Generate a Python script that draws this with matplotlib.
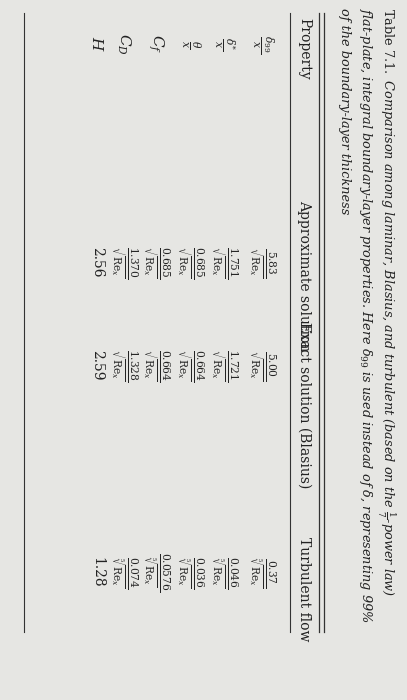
import matplotlib.pyplot as plt

plt.rcParams["font.family"] = "DejaVu Serif"
plt.rcParams["mathtext.fontset"] = "dejavuserif"

headers = ["Property", "Approximate solution", "Exact solution (Blasius)", "Turbulent flow"]
properties = [r"$\frac{\delta_{99}}{x}$", r"$\frac{\delta^{*}}{x}$", r"$\frac{\theta}{x}$",
              r"$C_f$", r"$C_D$", r"$H$"]
approx = ["5.83", "1.751", "0.685", "0.685", "1.370", "2.56"]
exact = ["5.00", "1.721", "0.664", "0.664", "1.328", "2.59"]
turbulent = ["0.37", "0.046", "0.036", "0.0576", "0.074", "1.28"]
title_lines = [
    r"$\mathrm{Table\ 7.1.}$ Comparison among laminar, Blasius, and turbulent (based on the $\frac{1}{7}$-power law)",
    r"flat-plate, integral boundary-layer properties. Here $\delta_{99}$ is used instead of $\delta$, representing 99%",
    "of the boundary-layer thickness",
]

W, H = 407, 700
fig = plt.figure(figsize=(W / 100, H / 100), dpi=100)
fig.patch.set_facecolor("#e6e6e3")
ax = fig.add_axes([0, 0, 1, 1])
ax.set_xlim(0, W)
ax.set_ylim(H, 0)
ax.axis("off")

# text is rotated: reading direction runs down the page
for i, line in enumerate(title_lines):
    ax.text(386 - 21 * i, 8, line, rotation=-90, ha="center", va="top",
            fontsize=9.3, style="italic", color="#222222")

ax.plot([324, 324], [13, 632], color="#333333", lw=0.9)
ax.plot([319, 319], [13, 632], color="#333333", lw=0.9)
ax.plot([290, 290], [13, 632], color="#333333", lw=0.8)
ax.plot([24, 24], [13, 632], color="#333333", lw=0.8)

col_y = [44, 262, 365, 572]
head_y = [18, 200, 322, 537]
for hy, h in zip(head_y, headers):
    ax.text(304, hy, h, rotation=-90, ha="center", va="top", fontsize=10, color="#222222")

row_x = [262, 224, 190, 156, 124, 97]
for k, (p, a, e, t) in enumerate(zip(properties, approx, exact, turbulent)):
    x = row_x[k]
    ax.text(x, col_y[0], p, rotation=-90, ha="center", va="center", fontsize=11, color="#222222")
    if k < 5:
        sa = r"$\frac{%s}{\sqrt{\mathrm{Re}_x}}$" % a
        se = r"$\frac{%s}{\sqrt{\mathrm{Re}_x}}$" % e
        st = r"$\frac{%s}{\sqrt[5]{\mathrm{Re}_x}}$" % t
        fs = 11
    else:
        sa, se, st = a, e, t
        fs = 10
    ax.text(x, col_y[1], sa, rotation=-90, ha="center", va="center", fontsize=fs, color="#222222")
    ax.text(x, col_y[2], se, rotation=-90, ha="center", va="center", fontsize=fs, color="#222222")
    ax.text(x, col_y[3], st, rotation=-90, ha="center", va="center", fontsize=fs, color="#222222")

fig.savefig("out.png", dpi=100, facecolor=fig.get_facecolor())
